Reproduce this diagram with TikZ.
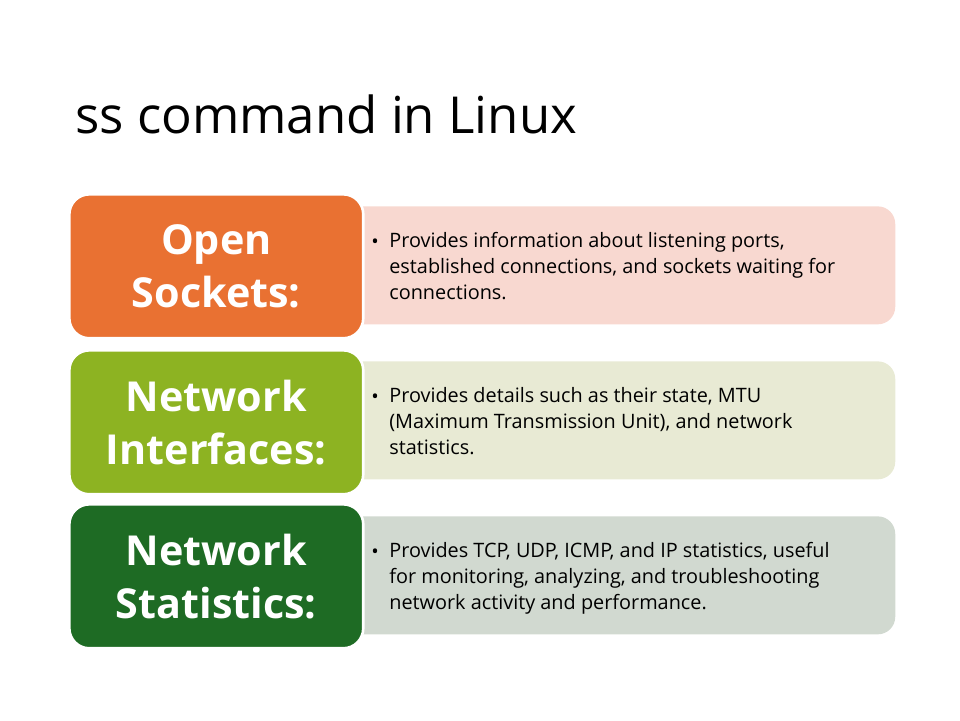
\documentclass[tikz,border=0pt]{standalone}
\usepackage{fontspec}
\setmainfont{Open Sans}
\begin{document}
\begin{tikzpicture}[x=0.02cm,y=-0.02cm,
 lbox/.style={draw=white,line width=1.5pt,rounded corners=0.4cm,text=white,font=\fontsize{23.5}{30}\selectfont\bfseries,align=center,anchor=north west,minimum width=5.88cm,minimum height=2.88cm,inner sep=0pt},
 rbox/.style={rounded corners=0.35cm,anchor=north west,minimum width=11.1cm,minimum height=2.36cm,inner sep=0pt},
 btxt/.style={anchor=base west,align=left,font=\fontsize{11.3}{14.7}\selectfont,inner sep=0pt}]
\useasboundingbox (0,0) rectangle (960,720);
\definecolor{c1}{HTML}{E97132}\definecolor{c2}{HTML}{8DB322}\definecolor{c3}{HTML}{1E6B24}
\definecolor{r1}{HTML}{F8D8D0}\definecolor{r2}{HTML}{E8EAD4}\definecolor{r3}{HTML}{D1D9D0}
\node[anchor=base west,inner sep=0pt,font=\fontsize{29}{34}\selectfont] (title) at (75,133) {ss command in Linux};
\foreach \i/\y/\yr/\c/\r/\lab/\txt in {
 1/193/206/c1/r1/{Open\\Sockets:}/{Provides information about listening ports,\\established connections, and sockets waiting for\\connections.},
 2/349/361/c2/r2/{Network\\Interfaces:}/{Provides details such as their state, MTU\\(Maximum Transmission Unit), and network\\statistics.},
 3/503/516/c3/r3/{Network\\Statistics:}/{Provides TCP, UDP, ICMP, and IP statistics, useful\\for monitoring, analyzing, and troubleshooting\\network activity and performance.}}{
 \node[rbox,fill=\r] (r\i) at (340,\yr) {};
 \node[lbox,fill=\c] (l\i) at (68,\y) {\lab};
 \node[anchor=base west,inner sep=0pt,font=\fontsize{11.3}{14.7}\selectfont] (b\i) at (371,\yr+42) {•};
 \node[btxt,anchor=north west] (t\i) at (389,\yr+26) {\txt};
}
\end{tikzpicture}
\end{document}
